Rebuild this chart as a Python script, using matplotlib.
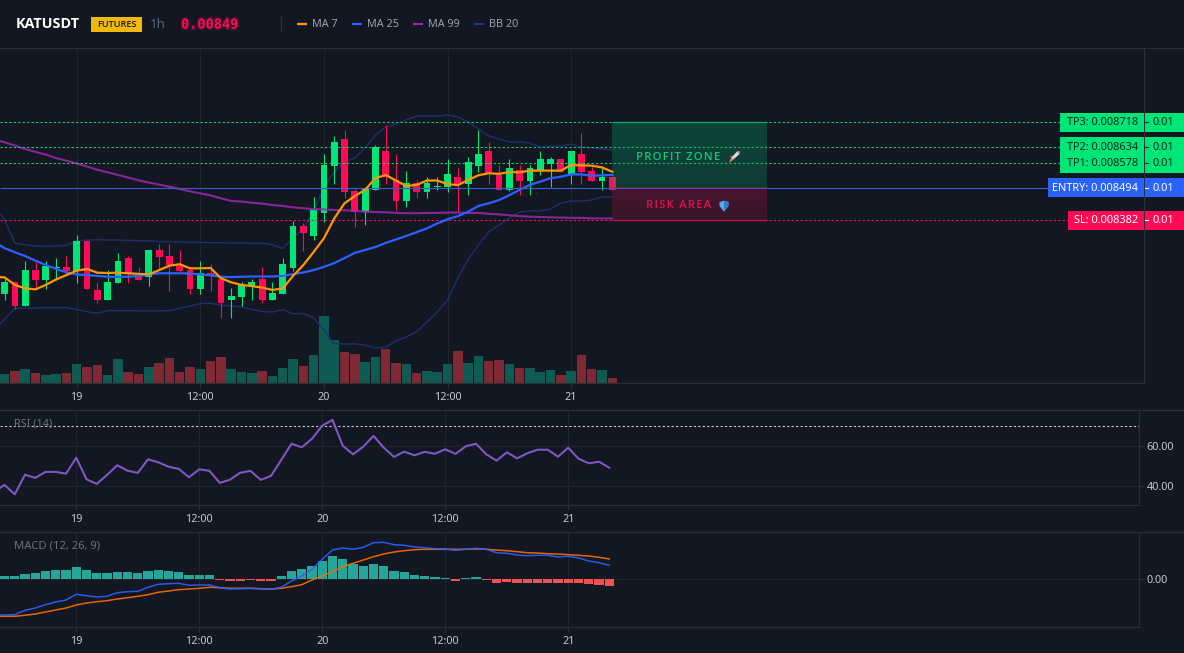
import numpy as np
import matplotlib
matplotlib.use('Agg')
import matplotlib.pyplot as plt
import matplotlib.patheffects as pe
from matplotlib.patches import Rectangle, Polygon

plt.rcParams['font.family'] = ['Noto Sans', 'DejaVu Sans']

# candles, prices in millionths, hours from the start of the 19th
opens = [8130, 8171, 8089, 8212, 8178, 8219, 8222, 8209, 8312, 8144, 8109, 8168, 8253, 8192, 8188,
         8281, 8260, 8226, 8212, 8147, 8202, 8181, 8109, 8120, 8157, 8181, 8109, 8130, 8219, 8363,
         8329, 8409, 8569, 8662, 8483, 8412, 8487, 8620, 8521, 8449, 8511, 8480, 8496, 8497, 8531,
         8507, 8569, 8620, 8538, 8487, 8555, 8517, 8552, 8576, 8593, 8542, 8610, 8552, 8517, 8531]
highs = [8189, 8175, 8244, 8241, 8244, 8252, 8260, 8332, 8315, 8171, 8212, 8272, 8260, 8224, 8281,
         8301, 8301, 8281, 8224, 8243, 8233, 8189, 8151, 8171, 8181, 8222, 8171, 8253, 8380, 8374,
         8462, 8610, 8672, 8692, 8490, 8490, 8641, 8710, 8610, 8552, 8521, 8531, 8531, 8593, 8562,
         8600, 8692, 8651, 8572, 8593, 8572, 8572, 8620, 8600, 8593, 8620, 8682, 8572, 8562, 8531]
lows = [8109, 8077, 8089, 8149, 8146, 8178, 8195, 8167, 8147, 8100, 8109, 8168, 8167, 8178, 8157,
        8212, 8140, 8207, 8130, 8130, 8140, 8049, 8049, 8089, 8109, 8099, 8109, 8130, 8209, 8277,
        8315, 8377, 8507, 8459, 8361, 8367, 8487, 8507, 8418, 8428, 8459, 8459, 8487, 8480, 8411,
        8469, 8548, 8507, 8487, 8483, 8469, 8469, 8538, 8497, 8548, 8507, 8507, 8517, 8487, 8487]
closes = [8171, 8089, 8212, 8178, 8226, 8222, 8209, 8312, 8147, 8109, 8171, 8243, 8201, 8178, 8281,
          8257, 8229, 8209, 8147, 8202, 8195, 8099, 8123, 8161, 8171, 8109, 8133, 8233, 8363, 8339,
          8418, 8572, 8651, 8480, 8412, 8490, 8633, 8531, 8449, 8511, 8480, 8511, 8500, 8542, 8507,
          8583, 8610, 8545, 8487, 8562, 8517, 8562, 8593, 8593, 8548, 8620, 8548, 8517, 8531, 8487]
volumes = [9.3, 12.3, 14.3, 10.3, 8.3, 9.3, 10.3, 19.3, 16.3, 18.3, 8.3, 24.3, 11.3, 9.3, 16.3,
           20.3, 25.3, 11.3, 16.3, 14.3, 22.3, 26.3, 14.3, 11.3, 10.3, 12.3, 7.3, 15.3, 24.3, 17.3,
           28, 67, 43, 31, 29, 21, 26, 34, 20, 19, 10, 12, 11, 19, 32,
           20, 27, 22, 23, 19, 15, 15, 11, 13, 8, 12, 28, 14, 13, 5]

# overlays start one hour earlier so they run off the left edge
ma7 = [8189, 8187, 8161, 8149, 8146, 8161, 8180, 8195, 8210, 8216, 8203, 8202, 8203, 8201, 8199, 8197,
       8212, 8227, 8232, 8218, 8218, 8219, 8184, 8170, 8161, 8157, 8152, 8144, 8149, 8192, 8229,
       8274, 8321, 8389, 8441, 8466, 8487, 8527, 8538, 8519, 8500, 8504, 8519, 8519, 8507, 8503,
       8521, 8537, 8544, 8542, 8548, 8547, 8553, 8553, 8553, 8553, 8572, 8571, 8570, 8564, 8549]
ma25 = [8309, 8287, 8273, 8260, 8244, 8229, 8216, 8204, 8197, 8195, 8192, 8189, 8189, 8189, 8192, 8197,
        8201, 8201, 8201, 8200, 8197, 8194, 8189, 8188, 8189, 8190, 8190, 8190, 8192, 8198, 8204,
        8212, 8223, 8236, 8253, 8271, 8281, 8291, 8305, 8317, 8329, 8342, 8355, 8372, 8386, 8397,
        8412, 8432, 8441, 8452, 8469, 8487, 8504, 8515, 8527, 8532, 8540, 8540, 8535, 8537, 8538]
ma99 = [8660, 8650, 8639, 8627, 8617, 8608, 8596, 8587, 8578, 8567, 8556, 8547, 8538, 8529, 8520, 8512,
        8505, 8498, 8490, 8482, 8475, 8468, 8458, 8449, 8447, 8443, 8440, 8435, 8432, 8427, 8424,
        8421, 8420, 8418, 8417, 8415, 8412, 8411, 8410, 8408, 8407, 8407, 8408, 8408, 8409, 8409,
        8408, 8408, 8405, 8403, 8400, 8397, 8395, 8394, 8393, 8392, 8391, 8391, 8389, 8389, 8389]
bb_upper = [8430, 8384, 8304, 8299, 8295, 8293, 8295, 8297, 8312, 8315, 8316, 8315, 8315, 8314, 8313, 8312,
            8310, 8309, 8308, 8307, 8307, 8306, 8306, 8305, 8305, 8304, 8304, 8299, 8286, 8322, 8356,
            8411, 8497, 8548, 8584, 8596, 8631, 8675, 8703, 8713, 8727, 8740, 8740, 8740, 8744, 8737,
            8720, 8696, 8672, 8661, 8651, 8651, 8648, 8634, 8637, 8637, 8644, 8634, 8631, 8627, 8624]
bb_lower = [8006, 8044, 8081, 8082, 8082, 8083, 8083, 8083, 8077, 8069, 8064, 8073, 8073, 8073, 8072, 8072,
            8072, 8073, 8081, 8089, 8097, 8098, 8092, 8089, 8086, 8077, 8070, 8068, 8077, 8062, 8063,
            8048, 8007, 7959, 7959, 7959, 7955, 7945, 7948, 7969, 7983, 8000, 8034, 8068, 8109, 8185,
            8247, 8298, 8343, 8367, 8391, 8411, 8415, 8415, 8421, 8442, 8449, 8449, 8452, 8463, 8463]

rsi = [37.3, 40.7, 36.0, 45.8, 44.2, 47.2, 47.2, 46.3, 54.3, 43.5, 41.2, 45.7, 50.5, 47.8, 46.7, 53.5,
       52.0, 49.8, 48.7, 44.5, 48.5, 47.7, 41.7, 43.3, 46.8, 47.7, 43.2, 45.2, 53.2, 61.3, 59.5,
       63.8, 70.3, 73.2, 60.3, 56.0, 59.8, 65.2, 59.3, 54.7, 57.3, 55.5, 57.2, 56.3, 58.5, 56.2,
       60.0, 61.3, 56.0, 52.8, 57.0, 54.0, 56.5, 58.3, 58.3, 54.8, 59.3, 53.8, 51.5, 52.3, 49.3]

macd = [-36, -36, -35.7, -31.3, -29, -25.7, -23, -21, -15.3, -16.7, -18, -17.3, -13.7, -12.7, -12.3, -8.3,
        -5.3, -4.7, -4.3, -6.3, -6, -6, -8.7, -10, -9.7, -9.3, -9.7, -10.3, -8.3, -2, 3,
        9.7, 19.7, 29, 31, 29.7, 31.7, 36.3, 36.7, 34.3, 33.7, 32, 31.3, 30.3, 30, 28.7,
        29.7, 30.7, 29.7, 26.3, 25.7, 24, 23.3, 23.7, 23.7, 22, 22.7, 21, 18, 16.3, 13.7]
signal = [-37.3, -37.3, -37.3, -36.3, -35, -33, -31, -29, -26, -24, -22.7, -21.7, -20, -18.7, -17.3, -15.7,
          -13.3, -12, -10.7, -10, -9.3, -8.3, -8.7, -9.3, -9.3, -9.3, -9.7, -10, -9.3, -7.7, -5.7,
          -1, 3, 7.3, 12.3, 15.7, 19, 22.3, 25, 27, 28.3, 29.3, 29.7, 29.7, 29.7, 29.7,
          29.7, 30, 29.7, 29, 28.3, 27.3, 26.3, 26, 25.3, 25, 24.3, 23.7, 23, 21.7, 20]
hist = [3, 3, 5, 6, 8, 9, 9, 12, 9, 6, 6, 7, 7, 6, 8,
        9, 8, 7, 4, 4, 4, -1.4, -2, -1.8, -1.4, -1.8, -1.8, 3, 8, 10,
        13, 18, 23, 20, 15, 13, 15, 13, 8, 7, 4, 3, 2, 1, -2,
        1, 2, -1.2, -4, -3, -4, -4, -3.5, -3.5, -4, -3.5, -4, -5, -6, -7]

tick_hours = [0, 12, 24, 36, 48]
tick_labels = ['19', '12:00', '20', '12:00', '21']

TP3, TP2, TP1, ENTRY, SL = 0.008718, 0.008634, 0.008578, 0.008494, 0.008382

BG = '#131722'
GRID = '#1f2430'
EDGE = '#2a2e39'
TEXT = '#c3c7d0'
UP = '#00e676'
DOWN = '#ff0a54'
W, H = 1184, 653

candle_x = np.arange(-7, 53)
line_x = np.arange(-8, 53)
o, h, l, c = [np.array(a) * 1e-6 for a in (opens, highs, lows, closes)]
up = c >= o
candle_colors = np.where(up, UP, DOWN)


def pane(left, top, right, bottom, **kw):
    return fig.add_axes([left / W, 1 - bottom / H, (right - left) / W, (bottom - top) / H], **kw)


def style(ax, xlim):
    ax.set_facecolor(BG)
    ax.set_xlim(*xlim)
    ax.set_xticks(tick_hours, tick_labels)
    ax.grid(True, axis='x', color=GRID, lw=0.8)
    ax.tick_params(axis='x', colors=EDGE, labelcolor=TEXT, labelsize=7.8, length=3.5, width=0.8, pad=3)
    for side in ('left', 'top'):
        ax.spines[side].set_visible(False)
    for side in ('right', 'bottom'):
        ax.spines[side].set_color(EDGE)
        ax.spines[side].set_linewidth(0.9)
    ax.set_axisbelow(True)


fig = plt.figure(figsize=(W / 100, H / 100), dpi=100, facecolor=BG)

# main pane, volume sits underneath on its own scale
ax_vol = pane(0, 48, 1144.3, 383.3)
style(ax_vol, (-7.45, 103.65))
ax_vol.set_ylim(0, 335.3)
ax_vol.set_yticks([])
ax_vol.bar(candle_x, volumes, width=0.92, color=np.where(up, '#0f5a52', '#7e2933'), zorder=2)

ax = pane(0, 48, 1144.3, 383.3, sharex=ax_vol)
ax.patch.set_alpha(0)
ax.set_ylim(0.0078238, 0.0089734)
ax.axis('off')

ax.plot(line_x, np.array(bb_upper) * 1e-6, color='#1c3070', lw=1.0, zorder=3)
ax.plot(line_x, np.array(bb_lower) * 1e-6, color='#1c3070', lw=1.0, zorder=3)
ax.vlines(candle_x, l, h, colors=candle_colors, lw=0.8, zorder=4)
ax.bar(candle_x, np.maximum(np.abs(c - o), 1.5e-6), bottom=np.minimum(o, c), width=0.66,
       color=candle_colors, zorder=5)
ax.plot(line_x, np.array(ma99) * 1e-6, color='#9c27b0', lw=1.5, alpha=0.85, zorder=6)
ax.plot(line_x, np.array(ma25) * 1e-6, color='#2962ff', lw=1.6, zorder=7)
ax.plot(line_x, np.array(ma7) * 1e-6, color='#ff9800', lw=1.6, zorder=8)

# level lines stop at their price tags
dots = (0, (2, 2))
ax.hlines([TP3, TP2, TP1], -7.45, 95.5, colors=UP, lw=0.8, linestyles=[dots], alpha=0.9, zorder=6)
ax.hlines(SL, -7.45, 96.3, colors=DOWN, lw=0.8, linestyles=[dots], zorder=6)
ax.hlines(ENTRY, -7.45, 94.3, colors='#3560cc', lw=0.8, zorder=6)

# profit and risk boxes
green_grad = np.zeros((40, 1, 4))
green_grad[..., :3] = matplotlib.colors.to_rgb('#00b070')
green_grad[..., 3] = np.linspace(0.30, 0.24, 40)[:, None]
ax.imshow(green_grad, extent=(52, 67, ENTRY, TP3), aspect='auto', zorder=9, interpolation='bilinear')
red_grad = np.zeros((40, 1, 4))
red_grad[..., :3] = matplotlib.colors.to_rgb('#e0104f')
red_grad[..., 3] = np.linspace(0.26, 0.18, 40)[:, None]
ax.imshow(red_grad, extent=(52, 67, SL, ENTRY), aspect='auto', zorder=9, interpolation='bilinear')
ax.set_xlim(-7.45, 103.65)
ax.set_ylim(0.0078238, 0.0089734)
ax.hlines(TP3, 52, 67, colors='#0fa86a', lw=0.9, zorder=10)
ax.hlines(SL, 52, 67, colors='#c40f4a', lw=0.9, zorder=10)

# RSI pane
ax_rsi = pane(0, 410, 1138.7, 505.3)
style(ax_rsi, (-7.44, 103.65))
ax_rsi.set_ylim(30.5, 78.15)
ax_rsi.plot(line_x, rsi, color='#7e57c2', lw=1.5, zorder=3)
ax_rsi.axhline(70, color='#c9ccd3', lw=0.8, ls=(0, (2, 2)), zorder=2)
ax_rsi.set_yticks([40, 60], ['40.00', '60.00'])
ax_rsi.yaxis.tick_right()
ax_rsi.grid(True, axis='y', color=GRID, lw=0.8)
ax_rsi.tick_params(axis='y', colors=EDGE, labelcolor=TEXT, labelsize=7.8, length=3.3, width=0.8, pad=2.5)

# MACD pane
ax_macd = pane(0, 532.3, 1138.7, 627.3)
style(ax_macd, (-7.44, 103.65))
ax_macd.set_ylim(-48.3, 46.7)
ax_macd.bar(candle_x, hist, width=0.9, color=np.where(np.array(hist) >= 0, '#26a69a', '#ef5350'), zorder=2)
ax_macd.plot(line_x, signal, color='#ff6d00', lw=1.1, alpha=0.9, zorder=3)
ax_macd.plot(line_x, macd, color='#2962ff', lw=1.1, alpha=0.9, zorder=4)
ax_macd.set_yticks([0], ['0.00'])
ax_macd.yaxis.tick_right()
ax_macd.grid(True, axis='y', color=GRID, lw=0.8)
ax_macd.tick_params(axis='y', colors=EDGE, labelcolor=TEXT, labelsize=7.8, length=3.3, width=0.8, pad=2.5)

# everything else is placed in pixels on a full figure overlay
ov = fig.add_axes([0, 0, 1, 1], zorder=20)
ov.set_xlim(0, W)
ov.set_ylim(H, 0)
ov.axis('off')

for y in (48, 410, 532.3):
    ov.plot([0, W], [y, y], color=EDGE, lw=0.9)

# header
ov.text(16, 24.5, 'KATUSDT', color='white', fontsize=10.4, fontweight='bold', va='center', family='Open Sans')
ov.add_patch(Rectangle((91, 17), 51, 15, fc='#f0b90b', ec='none'))
ov.text(116.5, 24.5, 'FUTURES', color='#1a1a1a', fontsize=6.6, fontweight='semibold', va='center', ha='center',
        family='Open Sans')
ov.text(150, 24.5, '1h', color='#55647a', fontsize=9.6, va='center')
ov.text(181, 24.5, '0.00849', color=DOWN, fontsize=9.8, fontweight='bold', va='center',
        family='DejaVu Sans Mono', path_effects=[pe.withStroke(linewidth=2.5, foreground='#ff0a54', alpha=0.18)])
ov.plot([281, 281], [17, 32], color=EDGE, lw=0.9)

legend_x = [297, 352, 413, 474]
legend_names = ['MA 7', 'MA 25', 'MA 99', 'BB 20']
legend_colors = ['#ff9800', '#2962ff', '#9c27b0', '#223a88']
for x, name, col in zip(legend_x, legend_names, legend_colors):
    ov.plot([x, x + 10], [24, 24], color=col, lw=1.6, solid_capstyle='butt')
    ov.text(x + 15, 24.5, name, color='#9aa0ac', fontsize=7.8, va='center')

# pane titles
ov.text(14, 424, 'RSI (14)', color='#6b6f78', fontsize=7.8, va='center')
ov.text(14, 546, 'MACD (12, 26, 9)', color='#6b6f78', fontsize=8.1, va='center')

# price tags on the right
def price_y(p):
    return (0.009138 - p) * 1e6 / 3.4286


tags = [('TP3: 0.008718', TP3, 1060, UP, '#0c2b22', 112.7, 132),
        ('TP2: 0.008634', TP2, 1060, UP, '#0c2b22', 137, 157),
        ('TP1: 0.008578', TP1, 1060, UP, '#0c2b22', 153, 172.7),
        ('ENTRY: 0.008494', ENTRY, 1048, '#2962ff', 'white', 178, 197),
        ('SL: 0.008382', SL, 1068, DOWN, 'white', 211, 230)]
for _, _, x0, bg, _, y0, y1 in tags:
    ov.add_patch(Rectangle((x0, y0), 1143.5 - x0, y1 - y0, fc=bg, ec='none'))
    ov.add_patch(Rectangle((1145, y0), W - 1145, y1 - y0, fc=bg, ec='none'))
for label, p, _, _, fg, _, _ in tags:
    y = price_y(p)
    ov.text(1138, y + 0.3, label, color=fg, fontsize=7.9, ha='right', va='center')
    ov.text(1163, y + 0.3, '0.01', color=fg, fontsize=7.9, ha='center', va='center')
    ov.plot([1144.5, 1148], [y, y], color=fg, lw=0.8)

# zone captions, letter spaced
ov.text(678, 157, '\u200a'.join('PROFIT ZONE'), color='#10c878', fontsize=8.2, fontweight='semibold',
        ha='center', va='center', family='Open Sans')
ov.text(678.5, 206, '\u200a'.join('RISK AREA'), color='#e0104f', fontsize=8.2, fontweight='semibold',
        ha='center', va='center', family='Open Sans')

# rocket
ov.add_patch(Polygon([(731, 158), (737, 151.5), (740, 151), (739.5, 154), (733, 160)], fc='#d8d8e6', ec='none'))
ov.add_patch(Polygon([(737, 151.5), (740, 151), (739.5, 154)], fc='#e8455a', ec='none'))
ov.add_patch(Polygon([(731, 158), (733, 160), (729, 163)], fc='#f08040', ec='none'))
ov.add_patch(Polygon([(730, 156), (733, 155), (731, 158)], fc='#c03a5a', ec='none'))
ov.add_patch(Polygon([(733, 160), (734, 157.5), (735, 159)], fc='#c03a5a', ec='none'))
# shield
ov.add_patch(Polygon([(719.5, 202), (724, 200.7), (728.5, 202), (728.5, 206), (724, 211.7), (719.5, 206)],
                     fc='#5aa9e6', ec='none'))
ov.add_patch(Polygon([(724, 200.7), (728.5, 202), (728.5, 206), (724, 211.7)], fc='#2f7fc4', ec='none'))

fig.savefig('out.png', dpi=100, facecolor=BG)
